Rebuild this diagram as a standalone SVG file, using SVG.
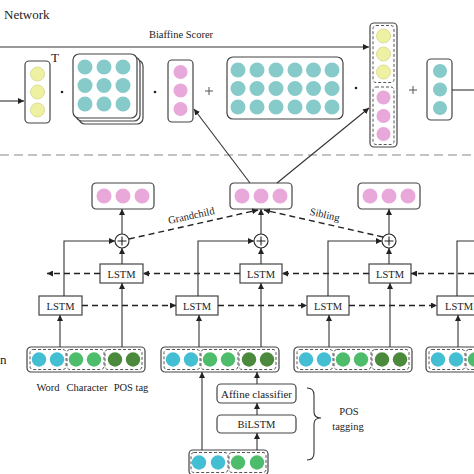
<svg xmlns="http://www.w3.org/2000/svg" width="474" height="474" viewBox="0 0 474 474">
<defs>
<marker id="ah" markerWidth="6" markerHeight="6" refX="6" refY="3" orient="auto" markerUnits="userSpaceOnUse"><path d="M0,0 L6,3 L0,6 z" fill="#222"/></marker>
<style>
.box{fill:#fff;stroke:#444;stroke-width:1.2}
.rbox{fill:#fff;stroke:#444;stroke-width:1.2}
.dbox{fill:none;stroke:#555;stroke-width:1;stroke-dasharray:3,2}
.ln{fill:none;stroke:#333;stroke-width:1.1}
.dl{fill:none;stroke:#222;stroke-width:1.4;stroke-dasharray:6,4}
.op{fill:none;stroke:#555;stroke-width:1}
.y{fill:#eef0a2;stroke:#d6d88a;stroke-width:0.8}
.t{fill:#86caca}
.p{fill:#e8a8da}
.b{fill:#43bed2}
.g{fill:#4dbc6b}
.dg{fill:#4b8a3c}
text{font-family:"Liberation Serif","Times New Roman",serif;fill:#222}
.lt{font-size:10.5px;text-anchor:middle}
</style>
<g id="emb6">
<rect class="rbox" x="0" y="0" width="118" height="25" rx="4"/>
<rect class="dbox" x="3" y="2.5" width="36" height="20" rx="3"/>
<rect class="dbox" x="40" y="2.5" width="37" height="20" rx="3"/>
<rect class="dbox" x="78" y="2.5" width="37" height="20" rx="3"/>
<circle class="b" cx="12" cy="12.5" r="7.2"/><circle class="b" cx="30" cy="12.5" r="7.2"/>
<circle class="g" cx="49" cy="12.5" r="7.2"/><circle class="g" cx="67" cy="12.5" r="7.2"/>
<circle class="dg" cx="88" cy="12.5" r="7.2"/><circle class="dg" cx="106" cy="12.5" r="7.2"/>
</g>
<g id="pink3">
<rect class="rbox" x="0" y="0" width="62" height="26" rx="4"/>
<circle class="p" cx="12" cy="13" r="7.5"/><circle class="p" cx="31" cy="13" r="7.5"/><circle class="p" cx="50" cy="13" r="7.5"/>
</g>
<g id="oplus">
<circle r="7" fill="#fff" stroke="#222" stroke-width="1.1"/>
<path d="M-4.5,0 H4.5 M0,-4.5 V4.5" stroke="#222" stroke-width="1.1"/>
</g>
</defs>
<rect width="474" height="474" fill="#fff"/>

<text x="4" y="19" font-size="13">Network</text>
<text x="181" y="38" font-size="10.5" text-anchor="middle">Biaffine Scorer</text>
<text x="0" y="364" font-size="13">n</text>

<!-- separator -->
<line x1="0" y1="155" x2="474" y2="155" stroke="#b0b0b0" stroke-width="1.3" stroke-dasharray="9,5"/>

<!-- top row -->
<g id="yellowcol">
<rect class="rbox" x="25" y="61" width="25" height="62" rx="4"/>
<circle class="y" cx="37.5" cy="74" r="7"/><circle class="y" cx="37.5" cy="92" r="7"/><circle class="y" cx="37.5" cy="110" r="7"/>
<text x="51" y="62" font-size="13" font-family="Liberation Sans,Arial,sans-serif">T</text>
</g>
<circle cx="62" cy="92" r="1.3" fill="#222"/>
<g id="tensor">
<rect class="rbox" x="79" y="60" width="64" height="64" rx="6"/>
<rect class="rbox" x="76" y="57" width="64" height="64" rx="6"/>
<rect class="rbox" x="73" y="54" width="64" height="64" rx="6"/>
<circle class="t" cx="85" cy="67" r="7.5"/><circle class="t" cx="104" cy="67" r="7.5"/><circle class="t" cx="123" cy="67" r="7.5"/>
<circle class="t" cx="85" cy="85.5" r="7.5"/><circle class="t" cx="104" cy="85.5" r="7.5"/><circle class="t" cx="123" cy="85.5" r="7.5"/>
<circle class="t" cx="85" cy="104" r="7.5"/><circle class="t" cx="104" cy="104" r="7.5"/><circle class="t" cx="123" cy="104" r="7.5"/>
</g>
<circle cx="155" cy="92" r="1.3" fill="#222"/>
<g id="pinkcol">
<rect class="rbox" x="168" y="60" width="25" height="62" rx="4"/>
<circle class="p" cx="180.5" cy="72" r="7"/><circle class="p" cx="180.5" cy="90.5" r="7"/><circle class="p" cx="180.5" cy="109" r="7"/>
</g>
<path class="op" d="M205,91 H213 M209,87 V95"/>
<g id="matrix">
<rect class="rbox" x="227" y="57" width="116" height="62" rx="6"/>
<g class="t">
<circle cx="238" cy="70" r="7.5"/><circle cx="257" cy="70" r="7.5"/><circle cx="276" cy="70" r="7.5"/><circle cx="295" cy="70" r="7.5"/><circle cx="313.5" cy="70" r="7.5"/><circle cx="332" cy="70" r="7.5"/>
<circle cx="238" cy="88.5" r="7.5"/><circle cx="257" cy="88.5" r="7.5"/><circle cx="276" cy="88.5" r="7.5"/><circle cx="295" cy="88.5" r="7.5"/><circle cx="313.5" cy="88.5" r="7.5"/><circle cx="332" cy="88.5" r="7.5"/>
<circle cx="238" cy="107" r="7.5"/><circle cx="257" cy="107" r="7.5"/><circle cx="276" cy="107" r="7.5"/><circle cx="295" cy="107" r="7.5"/><circle cx="313.5" cy="107" r="7.5"/><circle cx="332" cy="107" r="7.5"/>
</g>
</g>
<circle cx="356" cy="88" r="1.3" fill="#222"/>
<g id="concat">
<rect class="rbox" x="370" y="23" width="27" height="124" rx="4"/>
<rect class="dbox" x="373" y="25.5" width="21" height="57" rx="3"/>
<rect class="dbox" x="373" y="87" width="21" height="57.5" rx="3"/>
<circle class="y" cx="383.5" cy="36" r="7"/><circle class="y" cx="383.5" cy="54" r="7"/><circle class="y" cx="383.5" cy="72" r="7"/>
<circle class="p" cx="383.5" cy="97.5" r="7"/><circle class="p" cx="383.5" cy="116" r="7"/><circle class="p" cx="383.5" cy="134" r="7"/>
</g>
<path class="op" d="M409,90 H417 M413,86 V94"/>
<g id="bias">
<rect class="rbox" x="427" y="59" width="25" height="61" rx="4"/>
<circle class="t" cx="440" cy="71" r="7"/><circle class="t" cx="440" cy="89.5" r="7"/><circle class="t" cx="440" cy="108" r="7"/>
</g>

<!-- middle outputs -->
<use id="out1" href="#pink3" x="92" y="183"/>
<use id="out2" href="#pink3" x="230" y="183"/>
<use id="out3" href="#pink3" x="358" y="183"/>

<use id="plus1" href="#oplus" x="122" y="241"/>
<use id="plus2" href="#oplus" x="261" y="241"/>
<use id="plus3" href="#oplus" x="389" y="241"/>

<g id="lstm-bw">
<rect class="box" x="100" y="264" width="43" height="19"/><text class="lt" x="121.5" y="277.5">LSTM</text>
<rect class="box" x="240" y="264" width="42" height="19"/><text class="lt" x="261" y="277.5">LSTM</text>
<rect class="box" x="369" y="264" width="42" height="19"/><text class="lt" x="390" y="277.5">LSTM</text>
</g>
<g id="lstm-fw">
<rect class="box" x="39" y="296" width="43" height="19"/><text class="lt" x="60.5" y="309.5">LSTM</text>
<rect class="box" x="176" y="296" width="42" height="19"/><text class="lt" x="197" y="309.5">LSTM</text>
<rect class="box" x="307" y="296" width="42" height="19"/><text class="lt" x="328" y="309.5">LSTM</text>
<rect class="box" x="437" y="296" width="45" height="19"/><text class="lt" x="459" y="309.5">LSTM</text>
</g>

<!-- embeddings -->
<use id="emb1" href="#emb6" x="27" y="347"/>
<use id="emb2" href="#emb6" x="161" y="347"/>
<use id="emb3" href="#emb6" x="294" y="347"/>
<use id="emb4" href="#emb6" x="426" y="347"/>
<g id="labels" font-size="10.5">
<text x="48" y="391" text-anchor="middle">Word</text>
<text x="87" y="391" text-anchor="middle">Character</text>
<text x="131" y="391" text-anchor="middle">POS tag</text>
</g>
<g id="affine">
<rect class="rbox" x="217" y="384" width="79" height="19" rx="4"/>
<text x="256.5" y="397.5" font-size="11" text-anchor="middle">Affine classifier</text>
</g>
<g id="bilstm">
<rect class="rbox" x="217" y="415" width="79" height="18" rx="4"/>
<text x="256.5" y="428" font-size="10.5" text-anchor="middle">BiLSTM</text>
</g>
<g id="emb5">
<rect class="rbox" x="189" y="450" width="79" height="25" rx="4"/>
<rect class="dbox" x="191" y="452.5" width="37" height="20" rx="3"/>
<rect class="dbox" x="229" y="452.5" width="37" height="20" rx="3"/>
<circle class="b" cx="199" cy="462.5" r="7.2"/><circle class="b" cx="218" cy="462.5" r="7.2"/>
<circle class="g" cx="238" cy="462.5" r="7.2"/><circle class="g" cx="257" cy="462.5" r="7.2"/>
</g>
<g id="postag">
<path class="ln" d="M307,388 Q314,388 314,395 V412 Q314,418 321,418 Q314,418 314,424 V453 Q314,460 307,460"/>
<text x="349" y="415" font-size="10.5" text-anchor="middle">POS</text>
<text x="348" y="430" font-size="10.5" text-anchor="middle">tagging</text>
</g>

<g id="connectors">
<line class="ln" x1="0" y1="47" x2="369" y2="47" marker-end="url(#ah)"/>
<line class="ln" x1="0" y1="101" x2="24" y2="101" marker-end="url(#ah)"/>
<line class="ln" x1="250" y1="183" x2="194" y2="109" marker-end="url(#ah)"/>
<line class="ln" x1="277" y1="183" x2="369" y2="108" marker-end="url(#ah)"/>
<line class="ln" x1="452" y1="90" x2="474" y2="90"/>

<line class="ln" x1="122" y1="234" x2="122" y2="209" marker-end="url(#ah)"/>
<line class="ln" x1="261" y1="234" x2="261" y2="209" marker-end="url(#ah)"/>
<line class="ln" x1="389" y1="234" x2="389" y2="209" marker-end="url(#ah)"/>

<line class="ln" x1="122" y1="264" x2="122" y2="248" marker-end="url(#ah)"/>
<line class="ln" x1="261" y1="264" x2="261" y2="248" marker-end="url(#ah)"/>
<line class="ln" x1="389" y1="264" x2="389" y2="248" marker-end="url(#ah)"/>

<polyline class="ln" points="64,296 64,241 115,241" marker-end="url(#ah)"/>
<polyline class="ln" points="198,296 198,241 254,241" marker-end="url(#ah)"/>
<polyline class="ln" points="328,296 328,241 382,241" marker-end="url(#ah)"/>
<polyline class="ln" points="457,296 457,241 474,241"/>

<line class="ln" x1="60" y1="347" x2="60" y2="315" marker-end="url(#ah)"/>
<line class="ln" x1="122" y1="347" x2="122" y2="283" marker-end="url(#ah)"/>
<line class="ln" x1="199" y1="347" x2="199" y2="315" marker-end="url(#ah)"/>
<line class="ln" x1="261" y1="347" x2="261" y2="283" marker-end="url(#ah)"/>
<line class="ln" x1="329" y1="347" x2="329" y2="315" marker-end="url(#ah)"/>
<line class="ln" x1="390" y1="347" x2="390" y2="283" marker-end="url(#ah)"/>
<line class="ln" x1="458" y1="347" x2="458" y2="315" marker-end="url(#ah)"/>

<line class="ln" x1="202" y1="450" x2="202" y2="372" marker-end="url(#ah)"/>
<line class="ln" x1="257" y1="450" x2="257" y2="433" marker-end="url(#ah)"/>
<line class="ln" x1="257" y1="415" x2="257" y2="403" marker-end="url(#ah)"/>
<line class="ln" x1="257" y1="384" x2="257" y2="372" marker-end="url(#ah)"/>

<line class="dl" x1="100" y1="273.5" x2="47" y2="273.5" marker-end="url(#ah)"/>
<line class="dl" x1="240" y1="273.5" x2="143" y2="273.5" marker-end="url(#ah)"/>
<line class="dl" x1="369" y1="273.5" x2="282" y2="273.5" marker-end="url(#ah)"/>
<line class="dl" x1="474" y1="273.5" x2="411" y2="273.5" marker-end="url(#ah)"/>

<line class="dl" x1="82" y1="305.5" x2="176" y2="305.5" marker-end="url(#ah)"/>
<line class="dl" x1="218" y1="305.5" x2="307" y2="305.5" marker-end="url(#ah)"/>
<line class="dl" x1="349" y1="305.5" x2="437" y2="305.5" marker-end="url(#ah)"/>

<line class="dl" x1="129" y1="239" x2="258" y2="210" marker-end="url(#ah)"/>
<line class="dl" x1="383" y1="237" x2="264" y2="210" marker-end="url(#ah)"/>
</g>
<text x="192" y="219" font-size="10.5" text-anchor="middle" transform="rotate(-12.5 192 219)">Grandchild</text>
<text x="324" y="218" font-size="10.5" text-anchor="middle" transform="rotate(12.5 324 218)">Sibling</text>
</svg>
